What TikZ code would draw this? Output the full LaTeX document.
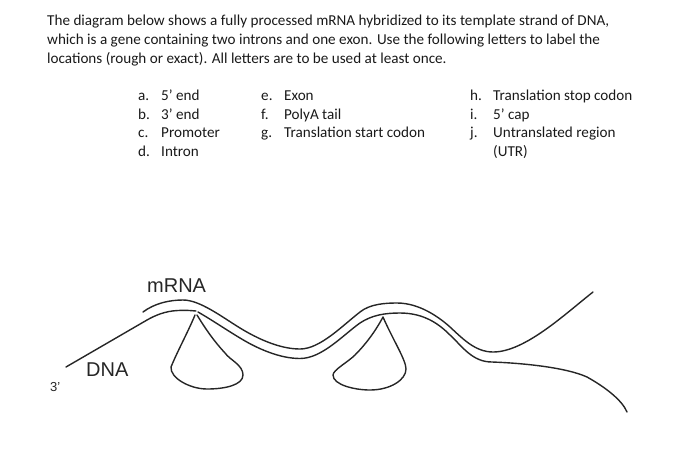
\documentclass[tikz,border=0pt]{standalone}
\usepackage{fontspec}
\setmainfont{Carlito}
\newfontfamily\lab{Liberation Sans}
\tikzset{txt/.style={anchor=base west,inner sep=0,font=\fontsize{15.15pt}{18pt}\selectfont,text=black!90},
biglab/.style={anchor=base west,inner sep=0,font=\lab\fontsize{20pt}{22pt}\selectfont,text=black!85},
small/.style={anchor=base west,inner sep=0,font=\lab\fontsize{13pt}{14pt}\selectfont,text=black!85},
strand/.style={line width=1.4pt,black!85,line cap=round,line join=round}}
\begin{document}
\begin{tikzpicture}[x=1pt,y=-1pt]
\useasboundingbox (0,0) rectangle (700,458);
\node[txt] (l1) at (47,25) {The diagram below shows a fully processed mRNA hybridized to its template strand of DNA,};
\node[txt] (l2) at (47,44) {which is a gene containing two introns and one exon. Use the following letters to label the};
\node[txt] (l3) at (47,63) {locations (rough or exact). All letters are to be used at least once.};
\foreach \n/\x/\y/\a/\b in {a/138/100/a./5’ end,b/138/119/b./3’ end,c/138/137/c./Promoter,d/138/156/d./Intron,e/261/100/e./Exon,f/261/119/f./PolyA tail,g/261/137/g./Translation start codon,h/470/100/h./Translation stop codon,i/470/119/i./5’ cap,j/470/137/j./Untranslated region}{
 \node[txt] (m\n) at (\x,\y) {\a};
 \node[txt] (t\n) at (\x+23,\y) {\b};
}
\node[txt] (utr) at (493,156) {(UTR)};
\node[biglab] (mrna) at (147,292) {mRNA};
\node[biglab] (dna) at (86,376) {DNA};
\node[small] (three) at (50,391) {3’};
% DNA strand, lower line
\draw[strand] (66,367) -- (147,320) .. controls (155,315.5) and (165,311) .. (178,310.5) .. controls (185,310) and (190,310.5) .. (196,311);
\draw[strand] (198,312) .. controls (212,320) and (225,329) .. (240,338) .. controls (258,349) and (280,358.5) .. (300,358.5) .. controls (322,358.5) and (343,335) .. (360,323) .. controls (372,315) and (385,313) .. (400,313) .. controls (425,313) and (440,325) .. (450,335) .. controls (462,346) and (472,362) .. (492,362) .. controls (520,363) and (565,367) .. (587,377) .. controls (605,387) and (622,400) .. (627,412);
% upper line
\draw[strand] (143,312) .. controls (155,303) and (170,300) .. (183,300) .. controls (200,300) and (222,317) .. (240,328) .. controls (258,339) and (280,349) .. (300,349) .. controls (320,349) and (342,326) .. (360,312) .. controls (370,304) and (385,303) .. (397,303) .. controls (420,303) and (440,318) .. (450,327) .. controls (462,338) and (475,352) .. (493,352) .. controls (525,352) and (565,314) .. (593,292);
% loops
\draw[strand] (195,315) .. controls (188,332) and (178,350) .. (171,367) .. controls (170,378) and (190,389) .. (207,389) .. controls (225,389) and (243,385) .. (243,375) .. controls (243,365) and (230,360) .. (225,353) .. controls (213,340) and (205,328) .. (197,315);
\draw[strand] (383,317) .. controls (375,332) and (365,345) .. (355,355) .. controls (348,362) and (333,370) .. (333,375) .. controls (333,385) and (355,390) .. (370,390) .. controls (390,390) and (406,380) .. (406,369) .. controls (406,360) and (393,340) .. (383,317);
\end{tikzpicture}
\end{document}
